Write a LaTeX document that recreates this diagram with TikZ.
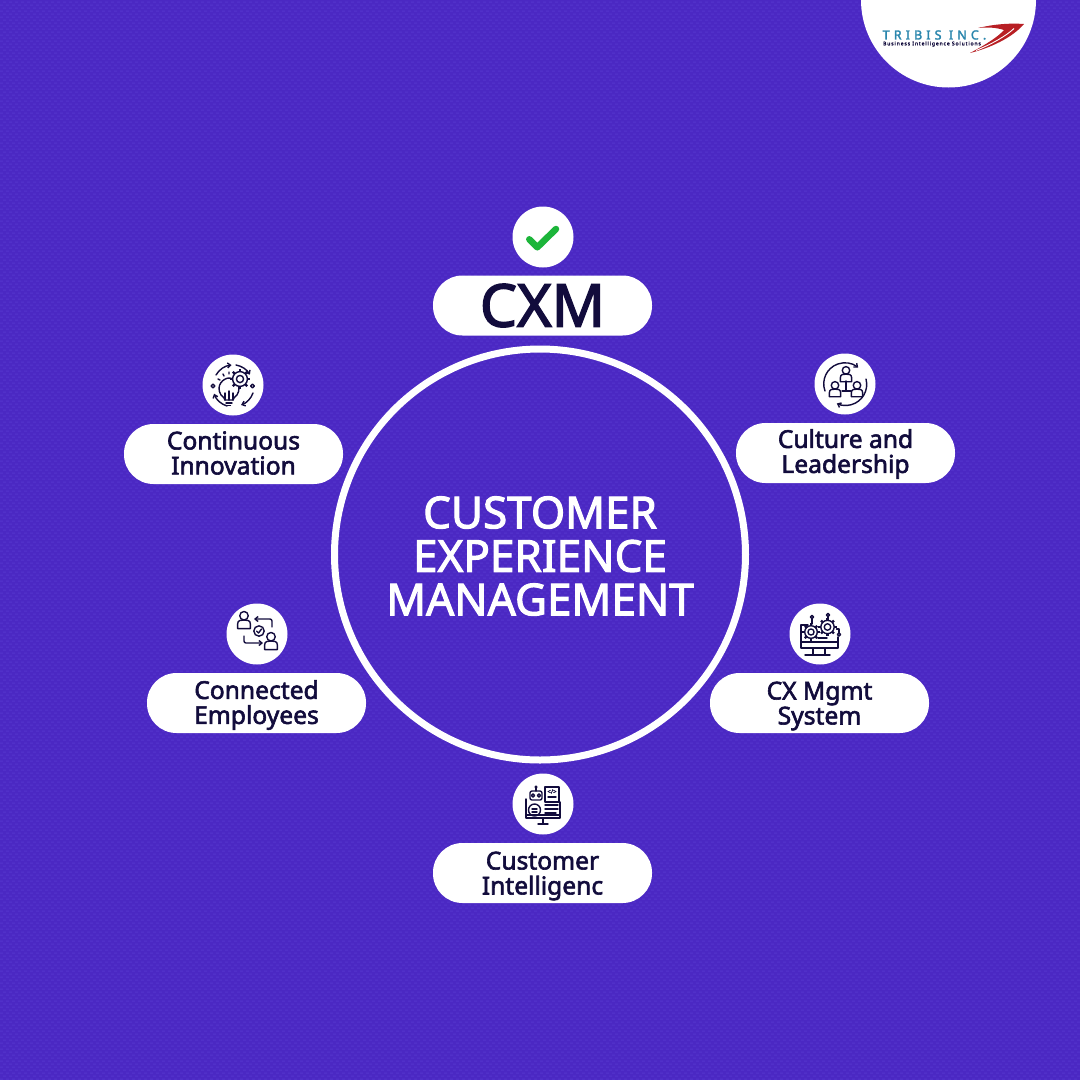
\documentclass[tikz,border=0pt]{standalone}
\usepackage{fontspec}
\setmainfont{Noto Sans}
\newfontfamily\sbf[FakeBold=2.4]{Noto Sans}
\usetikzlibrary{arrows.meta,calc,patterns}
\definecolor{bgc}{HTML}{4B28C3}
\definecolor{bgl}{HTML}{5130C9}
\definecolor{ink}{HTML}{120C3C}
\definecolor{okg}{HTML}{1CB53A}
\definecolor{logob}{HTML}{2A86AD}
\definecolor{logor}{HTML}{B81F24}
\pgfdeclarepatternformonly{weavetile}{\pgfqpoint{-1pt}{-1pt}}{\pgfqpoint{7pt}{7pt}}{\pgfqpoint{6pt}{6pt}}{%
  \pgfpathrectangle{\pgfqpoint{0pt}{0pt}}{\pgfqpoint{3pt}{1.5pt}}%
  \pgfpathrectangle{\pgfqpoint{3pt}{3pt}}{\pgfqpoint{3pt}{1.5pt}}%
  \pgfusepath{fill}}
\tikzset{
  pill/.style={fill=white,rounded corners=29.5pt,minimum width=219pt,minimum height=60pt,inner sep=0pt,align=center,text=ink},
  pilltext/.style={inner sep=0pt,align=center,text=ink,font=\sbf\fontsize{24.6}{25}\selectfont},
  titletext/.style={inner sep=0pt,align=center,text=white,font=\sbf\fontsize{44}{43.5}\selectfont},
  badge/.style={circle,fill=white,minimum size=61pt,inner sep=0pt},
  ic/.style={draw=ink,line width=1.4pt,line cap=round,line join=round},
  arr/.style={ic,-{Straight Barb[length=3pt,width=5pt]}},
}
\newcommand{\personic}[3]{%
  \draw[ic] (#1,#2-#3*0.62) circle[radius=#3*0.5pt];
  \draw[ic] (#1-#3*0.75,#2+#3*0.9) -- (#1-#3*0.75,#2+#3*0.35) .. controls (#1-#3*0.75,#2-#3*0.1) and (#1-#3*0.35,#2-#3*0.12) .. (#1,#2-#3*0.12) .. controls (#1+#3*0.35,#2-#3*0.12) and (#1+#3*0.75,#2-#3*0.1) .. (#1+#3*0.75,#2+#3*0.35) -- (#1+#3*0.75,#2+#3*0.9) -- cycle;
}
\newcommand{\gearic}[3]{%
  \foreach \a in {0,45,...,315}{
    \draw[ic,line width=2.4pt,line cap=butt] ($(#1,#2)+(\a:#3*0.72pt)$) -- ($(#1,#2)+(\a:#3*1.02pt)$);
  }
  \draw[ic,fill=white] (#1,#2) circle[radius=#3*0.74pt];
  \draw[ic] (#1,#2) circle[radius=#3*0.36pt];
}
\begin{document}
\begin{tikzpicture}[x=1pt,y=-1pt]
\useasboundingbox (0,0) rectangle (1080,1080);
\fill[bgc] (0,0) rectangle (1080,1080);
\fill[pattern=weavetile,pattern color=bgl] (0,0) rectangle (1080,1080);
\begin{scope}
\clip (0,0) rectangle (1080,1080);
\node[circle,fill=white,minimum size=175pt,inner sep=0pt] (logo) at (948.5,0) {};
\end{scope}
\node[text=logob,font=\sbf\fontsize{12.5}{13}\selectfont,anchor=center] (logotxt) at (934.5,35) {\addfontfeatures{LetterSpace=33}TRIBIS INC.};
\node[text=ink,font=\sbf\fontsize{5}{5}\selectfont] (logosub) at (932,44) {\addfontfeatures{LetterSpace=18}Business Intelligence Solutions};
\fill[logor] (978,28) .. controls (995,24) and (1010,23) .. (1024,24) .. controls (1012,38) and (990,48) .. (970,53) .. controls (985,45) and (998,37) .. (1004,30) .. controls (996,27.5) and (988,27) .. (978,28) -- cycle;
\draw[white,line width=0.9pt] (1014,28.5) .. controls (1006,36) and (992,44) .. (976,50.5);
\node[circle,draw=white,line width=7pt,minimum size=411pt,inner sep=0pt] (ring) at (540,554.5) {};
\node[titletext] (title) at ([yshift=-1.5pt]ring.center) {CUSTOMER\\EXPERIENCE\\MANAGEMENT};
\node[badge] (b0) at (543,237) {};
\draw[okg,line width=6.5pt,line cap=round,line join=round] (529.3,239.3) -- (537.3,247.3) -- (556,229);
\node[pill,font=\sbf\fontsize{59}{59}\selectfont] (p0) at (542.5,305.5) {CXM};
\node[pill] (p1) at (233.5,454) {};
\node[pill] (p2) at (845.5,453) {};
\node[pill] (p3) at (256.5,703) {};
\node[pill] (p4) at (819.5,703) {};
\node[pill] (p5) at (542.5,873) {};
\node[pilltext] (t1) at ([yshift=1pt]p1.center) {Continuous\\Innovation};
\node[pilltext] (t2) at ([yshift=-1pt]p2.center) {Culture and\\Leadership};
\node[pilltext] (t3) at ([yshift=-2pt]p3.center) {Connected\\Employees};
\node[pilltext] (t4) at ([yshift=-3pt]p4.center) {CX Mgmt\\System};
\node[pilltext] (t5) at ([yshift=-3pt]p5.center) {Customer\\Intelligenc};
\node[badge] (b1) at (233,385) {};
\node[badge] (b2) at (845,384) {};
\node[badge] (b3) at (257,634) {};
\node[badge] (b4) at (820,634) {};
\node[badge] (b5) at (543,804) {};
\begin{scope}[shift={(b1.center)}]
  \draw[ic] (-12,10) .. controls (-18,0) and (-9,-7) .. (-4,-7) .. controls (1,-7) and (10,0) .. (4,10) .. controls (2,12) and (0,13) .. (0,15) -- (-8,15) .. controls (-8,13) and (-10,12) .. (-12,10) -- cycle;
  \draw[ic] (-7,18) -- (-1,18) (-5.5,20.5) -- (-2.5,20.5) (-4,15) -- (-4,6) (-8,15) -- (-8,8) (0,15) -- (0,8);
  \gearic{7}{-6}{10}
  \draw[arr] (-17,-10) arc[start angle=150,end angle=95,radius=20pt];
  \draw[arr] (3,-20) arc[start angle=80,end angle=30,radius=20pt];
  \draw[arr] (20,8) arc[start angle=-20,end angle=-70,radius=20pt];
  \draw[arr] (-6,21) arc[start angle=-107,end angle=-160,radius=20pt];
  \draw[ic] (-20,1) circle[radius=1.8pt] (19.5,1) circle[radius=1.8pt];
  \draw[ic] (-15,-6) -- (-13,-5) (-10,-11) -- (-9,-9) (-4,-13) -- (-4,-11);
\end{scope}
\begin{scope}[shift={(b2.center)}]
  \personic{1}{-9}{7.5}
  \personic{-10}{6}{7.5}
  \personic{12}{6}{7.5}
  \draw[ic] (1,-3) -- (1,7) (-3,7) -- (6,7);
  \draw[arr] (-20,7) arc[start angle=200,end angle=50,radius=21pt];
  \draw[arr] (21,-5) arc[start angle=15,end angle=-115,radius=21pt];
\end{scope}
\begin{scope}[shift={(b3.center)}]
  \personic{-13}{-13}{8.5}
  \personic{14}{8}{8.5}
  \draw[ic] (2,-3) circle[radius=5.2pt];
  \draw[ic] (-0.5,-3) -- (1.5,-1) -- (4.5,-5);
  \draw[arr,rounded corners=2pt] (15,-7) -- (15,-15) -- (-3,-15);
  \draw[arr,rounded corners=2pt] (-13,2) -- (-13,9) -- (6,9);
\end{scope}
\begin{scope}[shift={(b4.center)}]
  \draw[ic] (-12,-9) -- (-19,-9) -- (-19,14) -- (18,14) -- (18,3);
  \draw[ic] (-19,8) -- (18,8);
  \draw[ic] (-7,14) -- (-7,20) (5,14) -- (5,20) (-15,21) -- (10,21);
  \draw[ic] (-2,4) -- (7,4);
  \gearic{-9}{-2}{8.5}
  \gearic{7.5}{-7}{9}
  \draw[ic] (-8,-15) -- (-8,-10) (8,-17) -- (8,-15) (16.5,-5) -- (19,-5) -- (19,-1.5);
  \draw[ic] (-8,-17) circle[radius=1.6pt] (8,-19) circle[radius=1.6pt] (19,0.5) circle[radius=1.6pt];
\end{scope}
\begin{scope}[shift={(b5.center)}]
  \draw[ic,rounded corners=2pt] (-13,-13) rectangle (-1,-4);
  \draw[ic] (-7,-13) -- (-7,-16);
  \draw[ic] (-7,-17) circle[radius=1pt];
  \draw[ic] (-10,-8.5) circle[radius=1.6pt] (-4,-8.5) circle[radius=1.6pt];
  \draw[ic] (2,-17) rectangle (16,-2);
  \node[text=ink,font=\sbf\fontsize{6}{6}\selectfont,inner sep=0pt] (code) at (9,-12.5) {</>};
  \draw[ic] (5,-7) -- (13,-7) (2,1) -- (15,1) (2,5) -- (15,5) (2,9) -- (13,9);
  \draw[ic] (-8.5,6) circle[radius=6pt];
  \draw[ic] (-11,5) -- (-6,5) (-11,8) -- (-6,8);
  \draw[ic] (-17,-5) -- (-17,11) -- (17,11);
  \draw[ic] (-17,11) -- (-17,14) -- (17,14) -- (17,-2);
  \draw[ic] (0,14) -- (0,20) (-5,20) -- (5,20);
\end{scope}
\end{tikzpicture}
\end{document}
